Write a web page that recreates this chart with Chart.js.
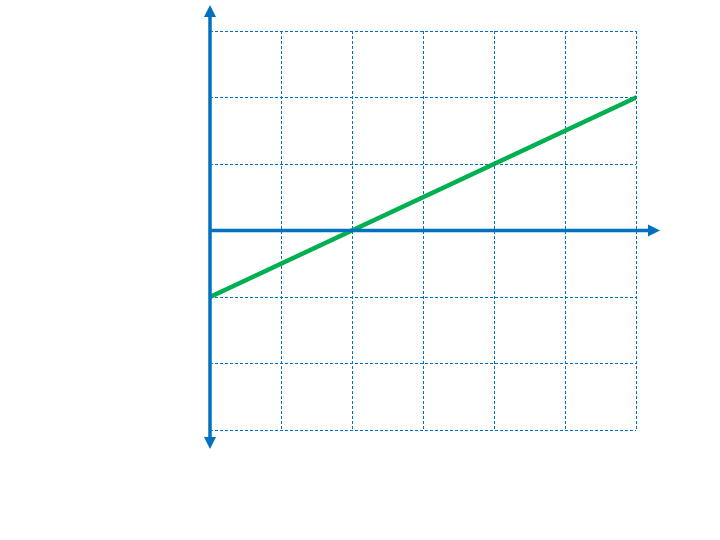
<!DOCTYPE html>
<html>
<head>
<meta charset="utf-8">
<script src="https://cdn.jsdelivr.net/npm/chart.js@4/dist/chart.umd.min.js"></script>
<style>
  html, body { margin: 0; padding: 0; background: #fff; }
  #wrap { width: 720px; height: 540px; }
</style>
</head>
<body>
<div id="wrap"><canvas id="lineChart" width="720" height="540"></canvas></div>
<script>
// values
const xValues = [0, 6];
const yValues = [-1, 2];
const xRange = [0, 6];
const yRange = [-3, 3];

const axisColor = '#0070C0';
const lineColor = '#00B050';

// draws the two blue axes with arrow heads through the origin
const arrowAxes = {
    id: 'arrowAxes',
    afterDatasetsDraw(chart) {
        const { ctx, chartArea, scales } = chart;
        const x0 = scales.x.getPixelForValue(0);
        const y0 = scales.y.getPixelForValue(0);
        const head = 12, half = 6;

        ctx.save();
        ctx.strokeStyle = axisColor;
        ctx.fillStyle = axisColor;
        ctx.lineWidth = 3.5;

        // vertical axis
        const yTop = chartArea.top - 26;
        const yBot = chartArea.bottom + 19;
        ctx.beginPath();
        ctx.moveTo(x0, yTop + head);
        ctx.lineTo(x0, yBot - head);
        ctx.stroke();
        ctx.beginPath();
        ctx.moveTo(x0, yTop);
        ctx.lineTo(x0 - half, yTop + head);
        ctx.lineTo(x0 + half, yTop + head);
        ctx.closePath();
        ctx.fill();
        ctx.beginPath();
        ctx.moveTo(x0, yBot);
        ctx.lineTo(x0 - half, yBot - head);
        ctx.lineTo(x0 + half, yBot - head);
        ctx.closePath();
        ctx.fill();

        // horizontal axis
        const xEnd = chartArea.right + 24;
        ctx.beginPath();
        ctx.moveTo(x0, y0);
        ctx.lineTo(xEnd - head, y0);
        ctx.stroke();
        ctx.beginPath();
        ctx.moveTo(xEnd, y0);
        ctx.lineTo(xEnd - head, y0 - half);
        ctx.lineTo(xEnd - head, y0 + half);
        ctx.closePath();
        ctx.fill();
        ctx.restore();
    }
};

const gridOpts = {
    color: axisColor,
    lineWidth: 1,
    drawTicks: false
};

new Chart(document.getElementById('lineChart'), {
    type: 'scatter',
    data: {
        datasets: [{
            data: xValues.map((x, i) => ({ x: x, y: yValues[i] })),
            showLine: true,
            borderColor: lineColor,
            borderWidth: 4.5,
            borderCapStyle: 'round',
            pointRadius: 0,
            fill: false
        }]
    },
    options: {
        responsive: false,
        animation: false,
        devicePixelRatio: 1,
        layout: { padding: { left: 210, right: 84, top: 31, bottom: 110 } },
        plugins: { legend: { display: false }, tooltip: { enabled: false } },
        scales: {
            x: {
                type: 'linear',
                min: xRange[0], max: xRange[1],
                ticks: { display: false, stepSize: 1 },
                grid: gridOpts,
                border: { display: false, dash: [3, 2] }
            },
            y: {
                type: 'linear',
                min: yRange[0], max: yRange[1],
                ticks: { display: false, stepSize: 1 },
                grid: gridOpts,
                border: { display: false, dash: [3, 2] }
            }
        }
    },
    plugins: [arrowAxes]
});
</script>
</body>
</html>
